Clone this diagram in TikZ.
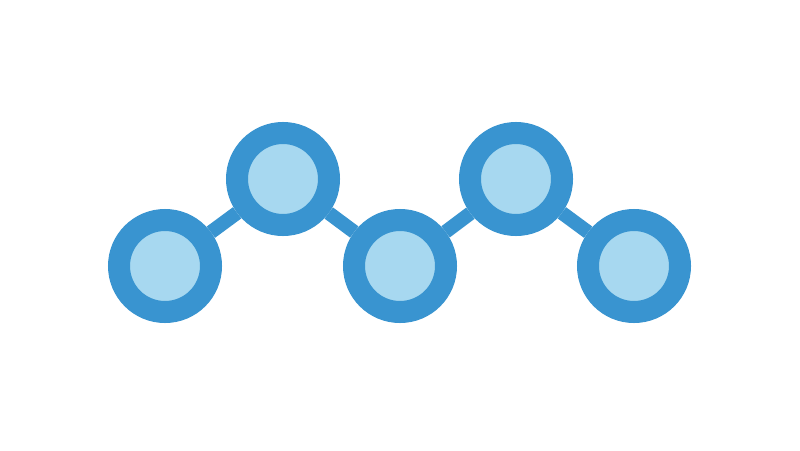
\documentclass[tikz,border=0pt]{standalone}
\definecolor{ringblue}{RGB}{57,148,208}
\definecolor{coreblue}{RGB}{167,216,240}
\tikzset{dot/.style={circle,draw=ringblue,fill=coreblue,line width=0.44cm,minimum size=1.84cm,inner sep=0pt}}

\begin{document}
\begin{tikzpicture}
	\useasboundingbox[fill=white] (0,0) rectangle (16,9);
	\node[dot] at (3.3,3.68)(1){};
	\node[dot] at (5.66,5.42)(2){};
	\node[dot] at (8.0,3.68)(3){};
	\node[dot] at (10.32,5.42)(4){};
	\node[dot] at (12.68,3.68)(5){};
	\path[ringblue,line width=0.28cm] (1)edge(2)(2)edge(3)(3)edge(4)(4)edge(5);
\end{tikzpicture}
\end{document}
